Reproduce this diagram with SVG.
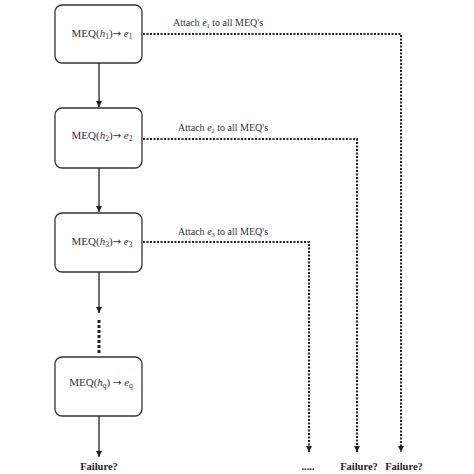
<svg xmlns="http://www.w3.org/2000/svg" width="474" height="474" viewBox="0 0 474 474">
<style>
.box{fill:#fff;stroke:#333;stroke-width:1.3}
.t{font-family:"Liberation Serif",serif;font-size:11px;fill:#333}
.lab{font-family:"Liberation Serif",serif;font-size:10px;fill:#333}
.f{font-family:"Liberation Serif",serif;font-size:10.5px;font-weight:bold;fill:#222}
.ln{stroke:#222;stroke-width:1.3;fill:none}
.dot{stroke:#222;stroke-width:2;stroke-dasharray:2 1.5;fill:none}
.dotb{stroke:#222;stroke-width:3;stroke-dasharray:3 2;fill:none}
.ar{font-family:"DejaVu Sans",sans-serif;font-size:10px}
</style>
<defs>
<marker id="ah" markerWidth="8" markerHeight="8" refX="6" refY="4" orient="auto" markerUnits="userSpaceOnUse">
<path d="M0,1 L6,4 L0,7 Z" fill="#222"/>
</marker>
</defs>
<g id="n1"><rect class="box" x="55" y="5" width="87" height="58" rx="7"/>
<text class="t" x="102" y="37" text-anchor="middle">MEQ(<tspan font-style="italic">h</tspan><tspan font-size="7.5" dy="2">1</tspan><tspan dy="-2">)</tspan><tspan class="ar">→</tspan> <tspan font-style="italic">e</tspan><tspan font-size="7.5" dy="2">1</tspan></text></g>
<g id="n2"><rect class="box" x="55" y="108" width="87" height="60" rx="7"/>
<text class="t" x="102" y="139" text-anchor="middle">MEQ(<tspan font-style="italic">h</tspan><tspan font-size="7.5" dy="2">2</tspan><tspan dy="-2">)</tspan><tspan class="ar">→</tspan> <tspan font-style="italic">e</tspan><tspan font-size="7.5" dy="2">2</tspan></text></g>
<g id="n3"><rect class="box" x="55" y="213" width="87" height="59" rx="7"/>
<text class="t" x="102" y="245" text-anchor="middle">MEQ(<tspan font-style="italic">h</tspan><tspan font-size="7.5" dy="2">3</tspan><tspan dy="-2">)</tspan><tspan class="ar">→</tspan> <tspan font-style="italic">e</tspan><tspan font-size="7.5" dy="2">3</tspan></text></g>
<g id="n4"><rect class="box" x="55" y="357" width="87" height="59" rx="7"/>
<text class="t" x="101" y="386" text-anchor="middle">MEQ(<tspan font-style="italic">h</tspan><tspan font-size="7.5" dy="2">q</tspan><tspan dy="-2">) </tspan><tspan class="ar">→</tspan> <tspan font-style="italic">e</tspan><tspan font-size="7.5" dy="2">q</tspan></text></g>
<g id="connectors">
<line class="ln" x1="99" y1="63" x2="99" y2="107" marker-end="url(#ah)"/>
<line class="ln" x1="99" y1="168" x2="99" y2="212" marker-end="url(#ah)"/>
<line class="ln" x1="99" y1="272" x2="99" y2="313" marker-end="url(#ah)"/>
<line class="dotb" x1="99" y1="320" x2="99" y2="353"/>
<line class="ln" x1="99" y1="416" x2="99" y2="457" marker-end="url(#ah)"/>
<polyline class="dot" points="143,34 401,34 401,452" marker-end="url(#ah)"/>
<polyline class="dot" points="143,139 357,139 357,452" marker-end="url(#ah)"/>
<polyline class="dot" points="143,242 309,242 309,452" marker-end="url(#ah)"/>
<text class="lab" x="218" y="26" text-anchor="middle">Attach <tspan font-style="italic">e</tspan><tspan font-size="6.5" dy="2">1</tspan><tspan dy="-2"> to all MEQ's</tspan></text>
<text class="lab" x="223" y="131" text-anchor="middle">Attach <tspan font-style="italic">e</tspan><tspan font-size="6.5" dy="2">2</tspan><tspan dy="-2"> to all MEQ's</tspan></text>
<text class="lab" x="223" y="235" text-anchor="middle">Attach <tspan font-style="italic">e</tspan><tspan font-size="6.5" dy="2">3</tspan><tspan dy="-2"> to all MEQ's</tspan></text>
</g>
<text class="f" x="99" y="470" text-anchor="middle">Failure?</text>
<text class="f" x="359" y="470" text-anchor="middle">Failure?</text>
<text class="f" x="404" y="470" text-anchor="middle">Failure?</text>
<text class="f" x="308" y="470" text-anchor="middle">.....</text>
</svg>
